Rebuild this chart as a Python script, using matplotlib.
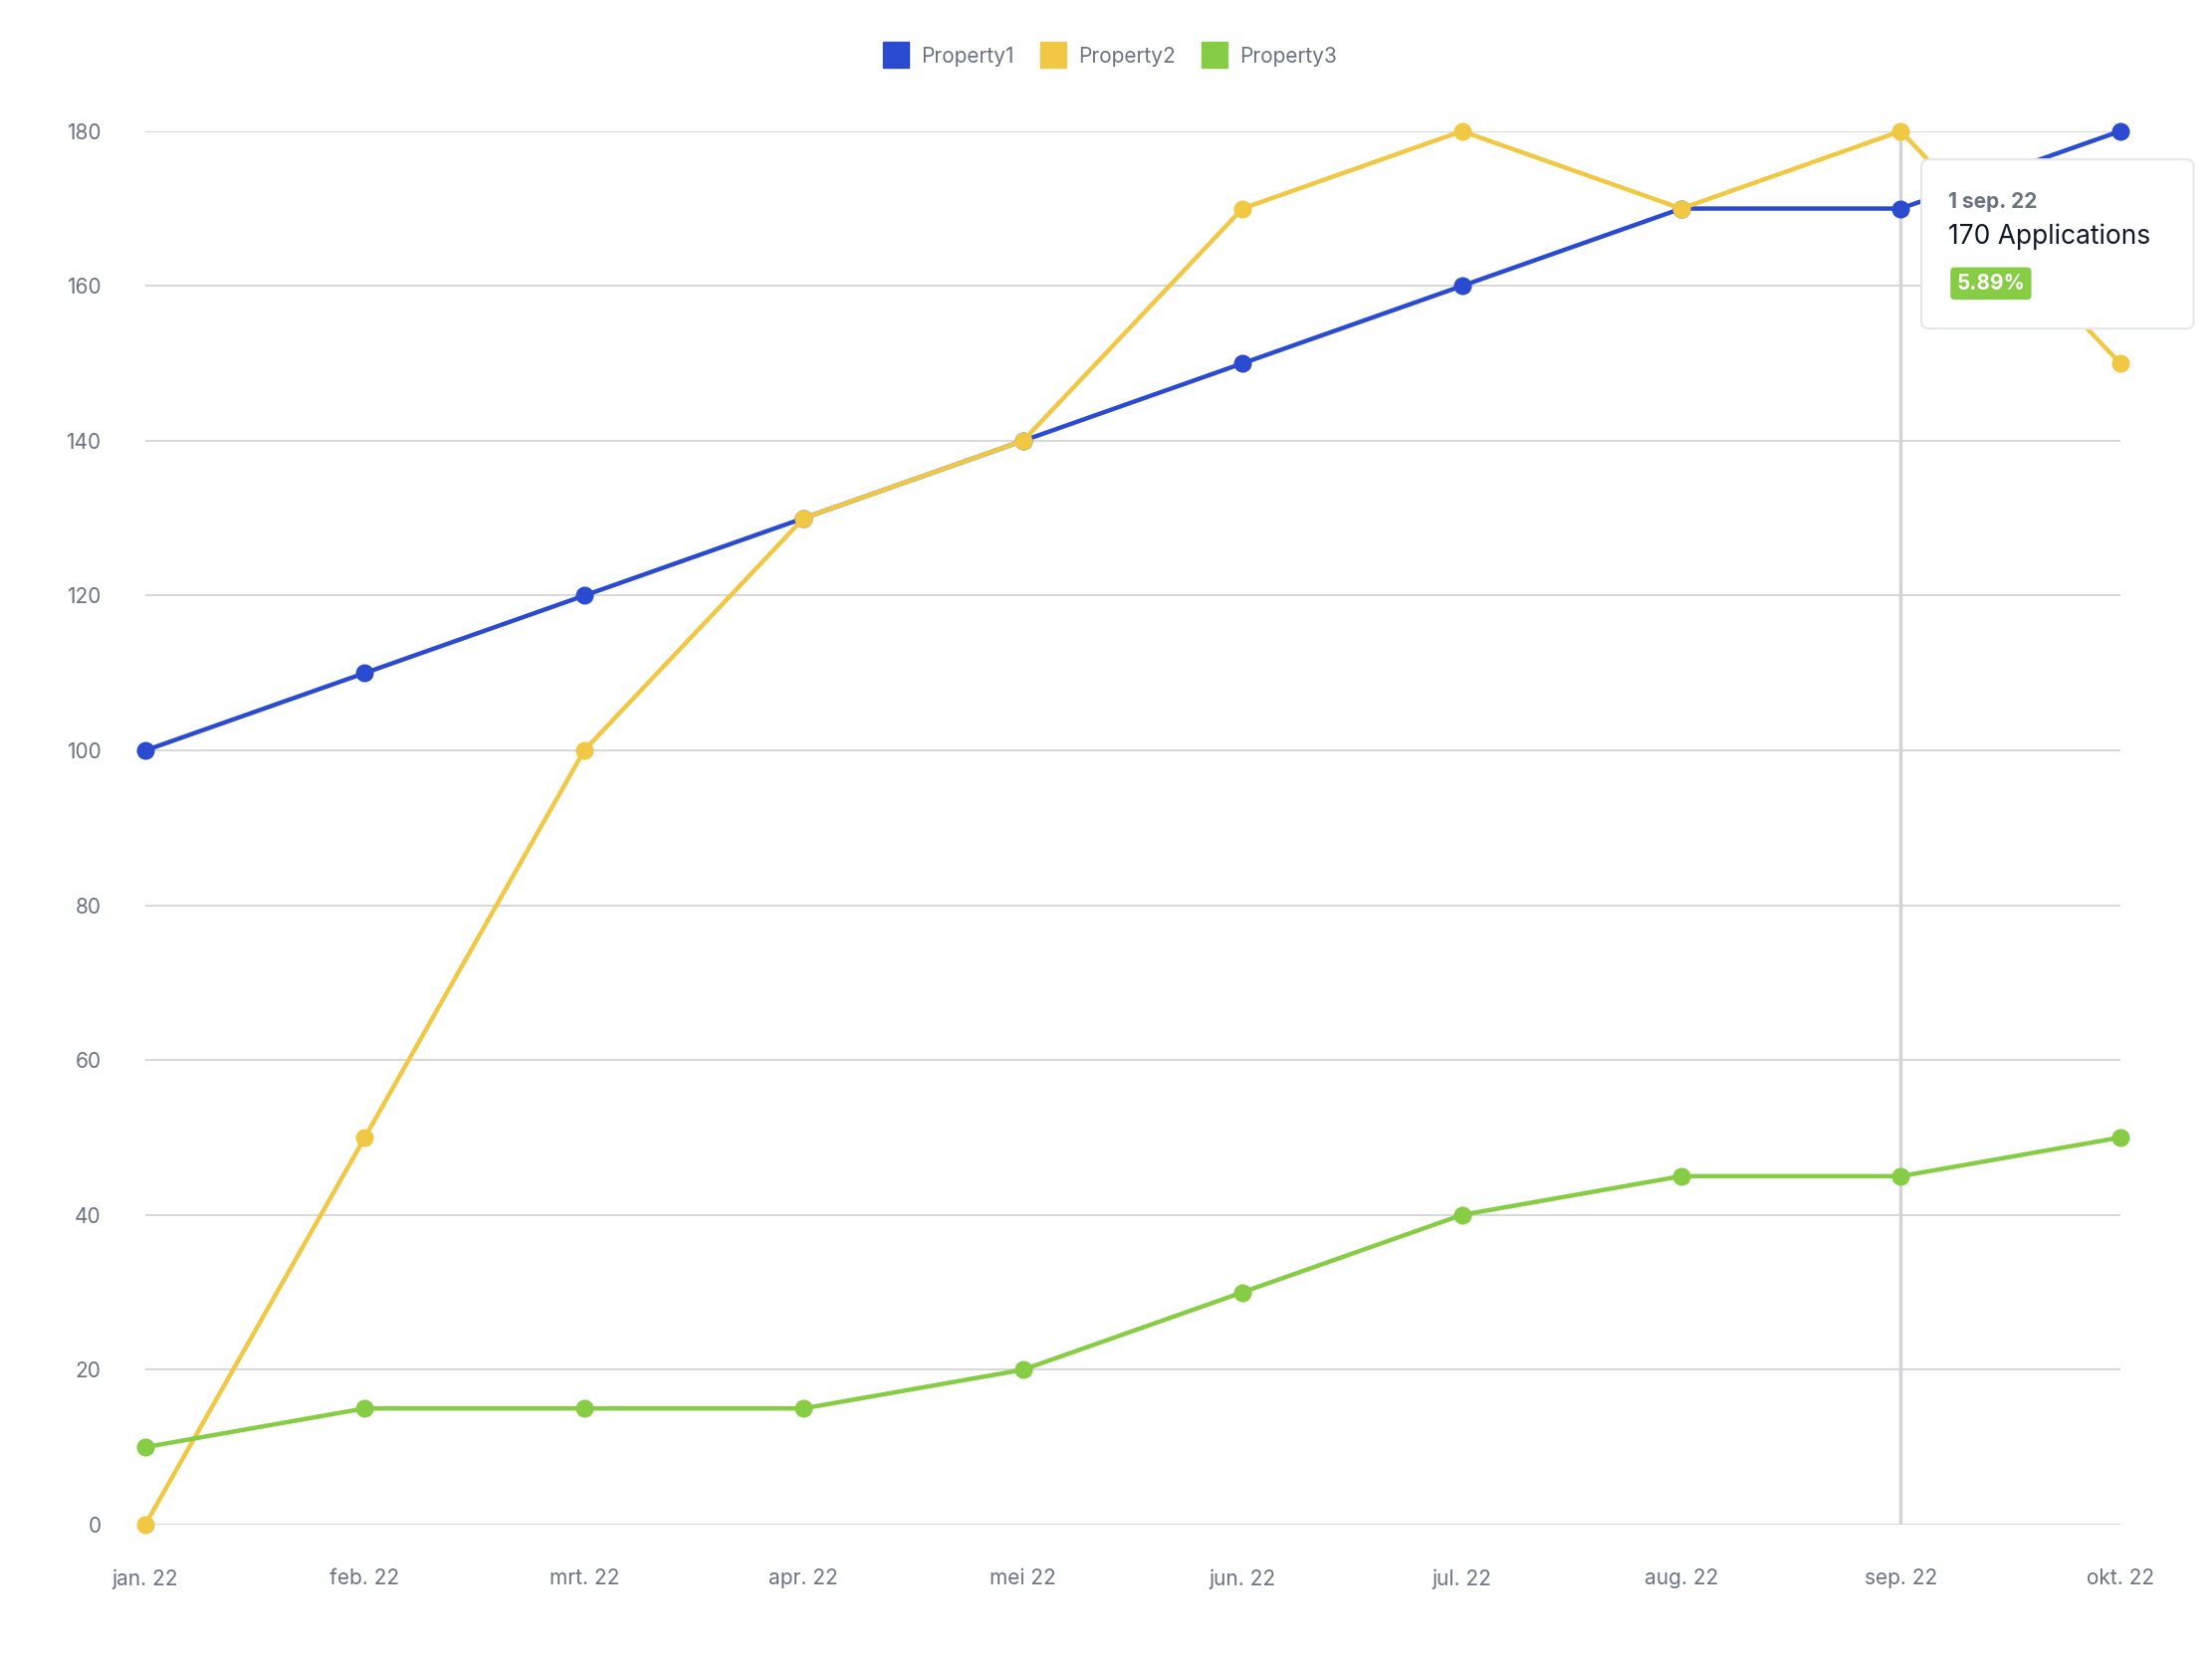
import matplotlib
matplotlib.use("Agg")
import matplotlib.pyplot as plt
from matplotlib.patches import FancyBboxPatch
from matplotlib.lines import Line2D

months = ["jan. 22","feb. 22","mrt. 22","apr. 22","mei 22","jun. 22","jul. 22","aug. 22","sep. 22","okt. 22"]
property1 = [100,110,120,130,140,150,160,170,170,180]
property2 = [0,50,100,130,140,170,180,170,180,150]
property3 = [10,15,15,15,20,30,40,45,45,50]
names = ["Property1","Property2","Property3"]
colors = ["#2a4bcf","#f0c843","#86cc45"]
yticks = [0,20,40,60,80,100,120,140,160,180]

plt.rcParams['font.family'] = ['Inter', 'DejaVu Sans']
fig = plt.figure(figsize=(22.22,16.68), dpi=100)
ax = fig.add_axes([0.0657,0.0816,0.8928,0.8394])
x = list(range(len(months)))
ax.axvline(8, color="#d4d4d8", lw=2.5, zorder=1)
for s,c,n in zip([property1,property2,property3], colors, names):
    ax.plot(x, s, color=c, lw=3.2, marker='o', ms=12, clip_on=False, zorder=3, label=n)
ax.set_xlim(0,9); ax.set_ylim(0,180)
ax.set_yticks(yticks); ax.set_xticks(x, months)
ax.grid(axis='y', color="#d4d4d8", lw=1.3)
for sp in ax.spines.values(): sp.set_visible(False)
ax.tick_params(length=0, labelsize=15, colors="#6b7280")
ax.tick_params(axis='y', pad=32)
ax.tick_params(axis='x', pad=32)

handles = [Line2D([],[],ls='none',marker='s',ms=19,color=c) for c in colors]
fig.legend(handles, names, loc='center', bbox_to_anchor=(0.5,0.966), ncol=3, frameon=False,
           fontsize=15, labelcolor="#6b7280", handletextpad=0.2, columnspacing=0.9)

def fx(px): return px/1568
def fy(py): return 1-py/1177
box = FancyBboxPatch((fx(1362),fy(233)), fx(1555)-fx(1362), fy(113)-fy(233),
                     boxstyle="round,pad=0,rounding_size=0.004", transform=fig.transFigure,
                     facecolor="white", edgecolor="#e5e7eb", lw=1.5, zorder=10)
fig.patches.append(box)
fig.text(fx(1381), fy(143), "1 sep. 22", fontsize=15, fontweight='bold', color="#6b7280", va='center', zorder=11)
fig.text(fx(1381), fy(168), "170 Applications", fontsize=19, color="#111827", va='center', zorder=11)
fig.text(fx(1387), fy(201), "5.89%", fontsize=15, fontweight='bold', color="white", va='center', zorder=12,
         bbox=dict(boxstyle="round,pad=0.3,rounding_size=0.2", fc="#86cc45", ec="none"))
fig.savefig("out.png", dpi=100, facecolor="white")
